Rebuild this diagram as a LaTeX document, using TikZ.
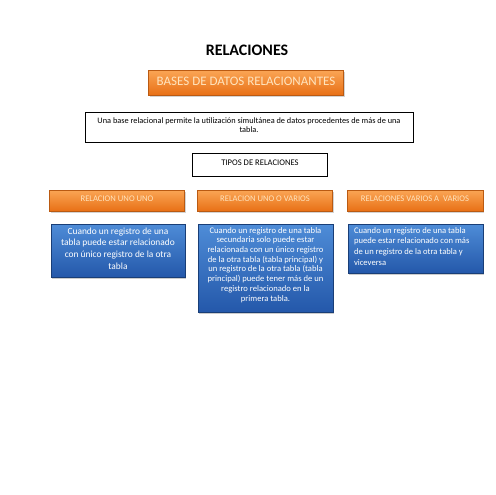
\documentclass[tikz,border=0pt]{standalone}
\usepackage{fontspec}
\setmainfont{Carlito}
\usetikzlibrary{shadows}
\definecolor{orangetop}{RGB}{250,165,85}
\definecolor{orangebot}{RGB}{232,112,22}
\definecolor{bluetop}{RGB}{78,140,215}
\definecolor{bluebot}{RGB}{36,88,170}
\definecolor{orangetext}{RGB}{255,228,190}
\begin{document}
\begin{tikzpicture}[x=1pt, y=-1pt,
    orangebox/.style={top color=orangetop, bottom color=orangebot, draw=orangebot!80!black, line width=0.3pt,
        drop shadow={shadow xshift=1pt, shadow yshift=-1.5pt, opacity=0.35}, inner sep=1pt, anchor=north},
    bluebox/.style={top color=bluetop, bottom color=bluebot, draw=bluebot!70!black, line width=0.4pt,
        drop shadow={shadow xshift=1pt, shadow yshift=-1.5pt, opacity=0.4}, text=white,
        anchor=north, inner sep=0pt},
    framebox/.style={draw, line width=1pt, inner sep=0pt, anchor=north}]
    \useasboundingbox (0,0) rectangle (495,495);

    % Title
    \node[font=\fontsize{16}{18}\selectfont\bfseries] (title) at (247,50) {RELACIONES};

    % Main concept
    \node[orangebox, minimum width=195pt, minimum height=25pt, text=orangetext,
        font=\fontsize{13}{15}\selectfont] (bases) at (246,70) {\raisebox{2pt}{BASES DE DATOS RELACIONANTES}};

    % Definition
    \node[framebox, font=\fontsize{8.3}{9}\selectfont] (def) at (249,112)
        {\parbox[c][30pt][t]{328pt}{\centering\vspace*{5.5pt}Una base relacional permite la utilización simultánea de datos procedentes de más de una\\ tabla.}};

    % Types
    \node[framebox, minimum width=135pt, minimum height=23pt,
        font=\fontsize{8.6}{10}\selectfont] (tipos) at (260,153) {\raisebox{5pt}{TIPOS DE RELACIONES}};

    % Orange headings
    \node[orangebox, minimum width=135pt, minimum height=21pt, text=orangetext,
        font=\fontsize{8.6}{10}\selectfont] (uno) at (117,190) {\raisebox{3pt}{RELACION UNO UNO}};
    \node[orangebox, minimum width=135pt, minimum height=21pt, text=orangetext,
        font=\fontsize{8.6}{10}\selectfont] (unovarios) at (265,190) {\raisebox{3pt}{RELACION UNO O VARIOS}};
    \node[orangebox, minimum width=136pt, minimum height=21pt, text=orangetext,
        font=\fontsize{8.6}{10}\selectfont] (varios) at (415,190) {\raisebox{3pt}{RELACIONES VARIOS A\ \ VARIOS}};

    % Descriptions
    \node[bluebox, font=\fontsize{9.4}{11.7}\selectfont] (d1) at (118,224)
        {\parbox[c][53pt][t]{134pt}{\centering\vspace*{3.5pt}Cuando un registro de una\\ tabla puede estar relacionado\\ con único registro de la otra\\ tabla}};
    \node[bluebox, font=\fontsize{8.6}{9.7}\selectfont] (d2) at (265.5,224)
        {\parbox[c][88pt][t]{135pt}{\centering\vspace*{3pt}Cuando un registro de una tabla\\ secundaria solo puede estar\\ relacionada con un único registro\\ de la otra tabla (tabla principal) y\\
         un registro de la otra tabla (tabla\\ principal) puede tener más de un\\ registro relacionado en la\\ primera tabla.}};
    \node[bluebox, font=\fontsize{8.6}{10.8}\selectfont] (d3) at (415.5,224)
        {\parbox[c][49pt][t]{135pt}{\raggedright\leftskip=6pt\vspace*{3pt}Cuando un registro de una tabla\\ puede estar relacionado con más\\ de un registro de la otra tabla y\\ viceversa}};
\end{tikzpicture}
\end{document}
